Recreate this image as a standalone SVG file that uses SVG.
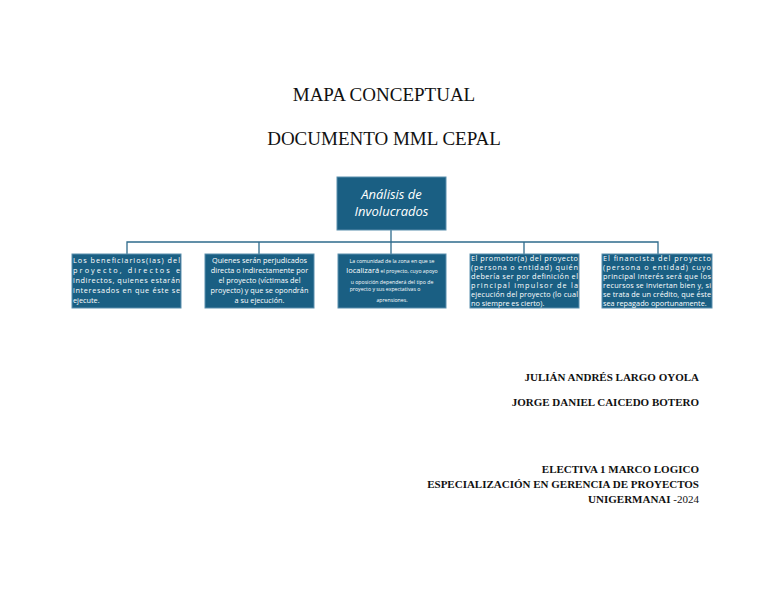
<svg xmlns="http://www.w3.org/2000/svg" width="768" height="594" viewBox="0 0 768 594">
<style>
.t{font-family:"Liberation Serif",serif;fill:#111}
.b{fill:#1a5f83;stroke:#5b8fad;stroke-width:1}
.x{font-family:"Open Sans","Liberation Sans",sans-serif;font-size:7.3px;fill:#fff}
.s{font-family:"Open Sans","Liberation Sans",sans-serif;font-size:5.2px;fill:#fff}
.c{stroke:#2e6b8c;stroke-width:1.3;fill:none}
</style>
<rect width="768" height="594" fill="#fff"/>
<text class="t" x="384" y="101" font-size="19" text-anchor="middle">MAPA CONCEPTUAL</text>
<text class="t" x="384" y="145" font-size="19" text-anchor="middle">DOCUMENTO MML CEPAL</text>
<g id="connectors">
<path class="c" d="M391 230V242M127 254V242H658V254M259 242V254M391 242V254M524 242V254"/>
</g>
<g id="root"><rect class="b" x="337" y="177" width="109" height="53"/>
<text font-family="Open Sans,Liberation Sans,sans-serif" font-style="italic" font-size="13" fill="#fff" text-anchor="middle"><tspan x="391.5" y="199">Análisis de</tspan><tspan x="391.5" y="216">Involucrados</tspan></text></g>
<g id="n1"><rect class="b" x="72" y="254" width="109" height="54"/>
<text class="x"><tspan x="73" y="263" textLength="107">Los beneficiarios(ias) del</tspan><tspan x="73" y="273" textLength="107">proyecto, directos e</tspan><tspan x="73" y="283" textLength="107">indirectos, quienes estarán</tspan><tspan x="73" y="293" textLength="107">interesados en que éste se</tspan><tspan x="73" y="303">ejecute.</tspan></text></g>
<g id="n2"><rect class="b" x="205" y="254" width="109" height="54"/>
<text class="x" text-anchor="middle"><tspan x="259.5" y="263">Quienes serán perjudicados</tspan><tspan x="259.5" y="273">directa o indirectamente por</tspan><tspan x="259.5" y="283">el proyecto (víctimas del</tspan><tspan x="259.5" y="293">proyecto) y que se opondrán</tspan><tspan x="259.5" y="303">a su ejecución.</tspan></text></g>
<g id="n3"><rect class="b" x="338" y="254" width="108" height="54"/>
<text class="s" text-anchor="middle"><tspan x="392" y="263">La comunidad de la zona en que se</tspan><tspan x="392" y="273"><tspan font-size="7.5">localizará</tspan> el proyecto, cuyo apoyo</tspan><tspan x="392" y="284">u oposición dependerá del tipo de</tspan><tspan x="385" y="291">proyecto y sus expectativas o</tspan><tspan x="392" y="302">aprensiones.</tspan></text></g>
<g id="n4"><rect class="b" x="470" y="254" width="109" height="54"/>
<text class="x" font-size="6.5"><tspan x="471" y="261" textLength="107">El promotor(a) del proyecto</tspan><tspan x="471" y="270" textLength="107">(persona o entidad) quién</tspan><tspan x="471" y="279" textLength="107">debería ser por definición el</tspan><tspan x="471" y="288" textLength="107">principal impulsor de la</tspan><tspan x="471" y="297" textLength="107">ejecución del proyecto (lo cual</tspan><tspan x="471" y="306">no siempre es cierto).</tspan></text></g>
<g id="n5"><rect class="b" x="602" y="254" width="110" height="54"/>
<text class="x" font-size="6.5"><tspan x="603" y="261" textLength="108">El financista del proyecto</tspan><tspan x="603" y="270" textLength="108">(persona o entidad) cuyo</tspan><tspan x="603" y="279" textLength="108">principal interés será que los</tspan><tspan x="603" y="288" textLength="108">recursos se inviertan bien y, si</tspan><tspan x="603" y="297" textLength="108">se trata de un crédito, que éste</tspan><tspan x="603" y="306">sea repagado oportunamente.</tspan></text></g>
<g class="t" font-size="11" font-weight="bold" text-anchor="end">
<text x="699" y="381">JULIÁN ANDRÉS LARGO OYOLA</text>
<text x="699" y="406">JORGE DANIEL CAICEDO BOTERO</text>
<text x="699" y="473">ELECTIVA 1 MARCO LOGICO</text>
<text x="699" y="488">ESPECIALIZACIÓN EN GERENCIA DE PROYECTOS</text>
<text x="699" y="503">UNIGERMANAI <tspan font-weight="normal">-2024</tspan></text>
</g>
</svg>
